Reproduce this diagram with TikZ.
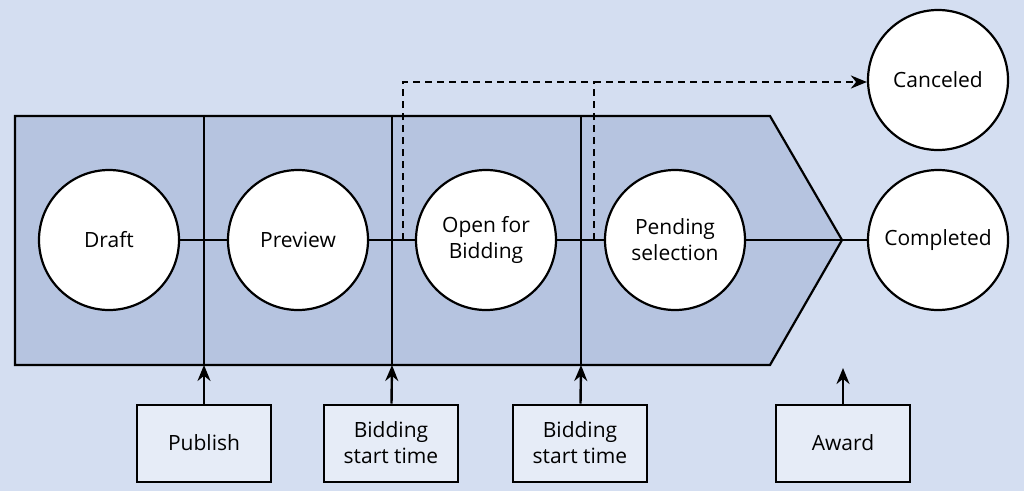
\documentclass[tikz,border=0pt]{standalone}
\usepackage{fontspec}
\setmainfont{Open Sans}
\usetikzlibrary{arrows.meta, positioning}
\definecolor{bg}{HTML}{D4DEF1}
\definecolor{stage}{HTML}{B6C4E0}
\definecolor{boxfill}{HTML}{E6ECF7}
\tikzstyle{state} = [circle, draw=black, fill=white, line width=2.2pt, minimum size=140pt, align=center, font=\fontsize{21}{26}\selectfont]
\tikzstyle{trigger} = [rectangle, draw=black, fill=boxfill, line width=2pt, minimum width=134pt, minimum height=77pt, align=center, font=\fontsize{21}{26}\selectfont]
\tikzstyle{edge} = [line width=2.4pt, -{Stealth[length=16pt,width=13pt]}]

\begin{document}
\begin{tikzpicture}[x=1pt, y=-1pt, line width=2.4pt]

\fill[bg] (0,0) rectangle (1024,491);
\useasboundingbox (0,0) rectangle (1024,491);

% process chevron
\draw[line width=2.2pt, fill=stage] (15,116) -- (770,116) -- (842,240) -- (770,365) -- (15,365) -- cycle;
\foreach \x in {204,392,581}
  \draw (\x,116) -- (\x,365);

\draw (109,240) -- (938,240);

\node (draft) [state] at (109,240) {Draft};
\node (preview) [state] at (298,240) {Preview};
\node (open) [state] at (486,240) {Open for\\Bidding};
\node (pending) [state] at (675,240) {Pending\\selection};
\node (completed) [state] at (938,240) {Completed};
\node (canceled) [state] at (938,80) {Canceled};

% cancel paths
\coordinate (c1) at (403,240);
\coordinate (c2) at (594,240);
\draw[dash pattern=on 7pt off 5pt] (c1) |- (594,82);
\draw[dash pattern=on 7pt off 5pt] (c2) -- (594,82);
\draw[dash pattern=on 7pt off 5pt, -{Stealth[length=16pt,width=13pt]}] (594,82) -- (canceled.west |- 0,82);

% triggers
\node (publish) [trigger] at (204,443) {Publish};
\node (start1) [trigger] at (391,443) {Bidding\\start time};
\node (start2) [trigger] at (580,443) {Bidding\\start time};
\node (award) [trigger] at (843,443) {Award};

\coordinate (p1) at (204,365);
\coordinate (p2) at (392,365);
\coordinate (p3) at (581,365);
\coordinate (p4) at (843,368);
\draw[edge] (publish) -- (p1);
\draw[edge] (start1) -- (p2);
\draw[edge] (start2) -- (p3);
\draw[edge] (award) -- (p4);

\end{tikzpicture}
\end{document}
